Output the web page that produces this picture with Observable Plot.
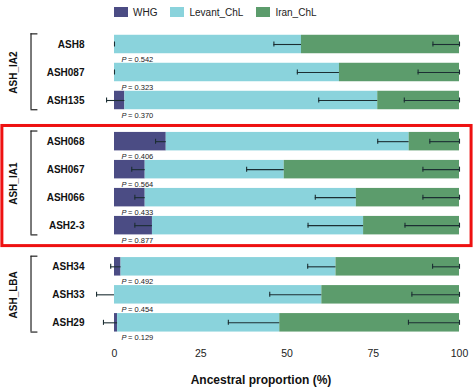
<!DOCTYPE html>
<html>
<head>
<meta charset="utf-8">
<script src="https://cdn.jsdelivr.net/npm/d3@7"></script>
<script src="https://cdn.jsdelivr.net/npm/@observablehq/plot@0.6"></script>
<style>
  body { margin: 0; background: #fff; font-family: "Liberation Sans", Arial, sans-serif; }
  #legend { display: flex; align-items: center; height: 24px; padding-left: 114px; font-size: 10px; color: #222; }
  #legend .sw { width: 14px; height: 10px; margin-right: 5px; }
  #legend .it { display: flex; align-items: center; margin-right: 13px; }
  svg { overflow: visible; }
</style>
</head>
<body>
<div id="legend"></div>
<div id="chart"></div>
<script>
// ---- data ----
const samples = ["ASH8","ASH087","ASH135","ASH068","ASH067","ASH066","ASH2-3","ASH34","ASH33","ASH29"];
const groups  = ["ASH_IA2","ASH_IA2","ASH_IA2","ASH_IA1","ASH_IA1","ASH_IA1","ASH_IA1","ASH_LBA","ASH_LBA","ASH_LBA"];
const components = ["WHG","Levant_ChL","Iran_ChL"];
const colors = ["#4b4c84","#8ad3dc","#5c9c6c"];
const whg    = [0, 0, 3.0, 15.0, 8.9, 8.9, 11.0, 1.9, 0, 0.9];
const levant = [54.2, 65.2, 73.3, 70.4, 40.3, 61.2, 61.2, 62.3, 60.1, 47.0];
const iran   = [45.8, 34.8, 23.7, 14.6, 50.8, 29.9, 27.8, 35.8, 39.9, 52.1];
const whgErr    = [0, 0, 5.3, 3.1, 3.9, 3.0, 5.1, 3.0, 5.2, 4.1];
const levantErr = [8.0, 12.2, 17.1, 9.1, 10.9, 11.9, 16.1, 8.2, 15.1, 14.9];
const iranErr   = [7.7, 12.0, 16.0, 8.6, 10.6, 10.6, 15.8, 7.8, 13.8, 14.8];
const pValues = ["0.542","0.323","0.370","0.406","0.564","0.433","0.877","0.492","0.454","0.129"];
const xTicks = [0, 25, 50, 75, 100];
const highlightGroup = "ASH_IA1";

// ---- derived tables ----
const groupOrder = [...new Set(groups)];
const rows = samples.map((s, i) => {
  const gi = groupOrder.indexOf(groups[i]);
  return {sample: s, group: groups[i], pos: i + gi * 0.47,
          w: whg[i], l: levant[i], r: iran[i], p: pValues[i],
          we: whgErr[i], le: levantErr[i], re: iranErr[i]};
});
const segs = rows.flatMap(d => [
  {pos: d.pos, comp: components[0], x1: 0, x2: d.w},
  {pos: d.pos, comp: components[1], x1: d.w, x2: d.w + d.l},
  {pos: d.pos, comp: components[2], x1: d.w + d.l, x2: d.w + d.l + d.r}
]);
const errs = rows.flatMap(d => [
  {pos: d.pos, a: d.w - d.we, b: d.w, capR: false},
  {pos: d.pos, a: d.w + d.l - d.le, b: d.w + d.l, capR: false},
  {pos: d.pos, a: d.w + d.l + d.r - d.re, b: d.w + d.l + d.r, capR: true}
]);
const groupSpans = groupOrder.map(g => {
  const rs = rows.filter(d => d.group === g);
  return {group: g, first: rs[0].pos, last: rs[rs.length - 1].pos,
          mid: (rs[0].pos + rs[rs.length - 1].pos) / 2};
});

// ---- legend ----
const leg = document.getElementById("legend");
components.forEach((c, i) => {
  const it = document.createElement("div"); it.className = "it";
  const sw = document.createElement("div"); sw.className = "sw"; sw.style.background = colors[i];
  const tx = document.createElement("span"); tx.textContent = c;
  it.append(sw, tx); leg.append(it);
});

// ---- plot ----
const maxPos = rows[rows.length - 1].pos;
const chart = Plot.plot({
  width: 474,
  height: 364,
  marginLeft: 114,
  marginRight: 15,
  marginTop: 0,
  marginBottom: 46,
  style: {fontFamily: "Liberation Sans, Arial, sans-serif", background: "white"},
  x: {domain: [0, 100], ticks: xTicks, tickSize: 0, tickPadding: 7, label: null},
  y: {domain: [0, maxPos], range: [20, 20 + maxPos * 28], axis: null},
  color: {domain: components, range: colors},
  marks: [
    Plot.rect(segs, {x1: "x1", x2: "x2", y1: d => d.pos - 0.33, y2: d => d.pos + 0.33, fill: "comp"}),
    // error bars
    Plot.ruleY(errs, {x1: "a", x2: "b", y: "pos", stroke: "#1c2e33", strokeWidth: 1.1}),
    Plot.ruleX(errs, {x: "a", y1: d => d.pos - 0.09, y2: d => d.pos + 0.09, stroke: "#1c2e33", strokeWidth: 1.1}),
    Plot.ruleX(errs.filter(d => d.capR), {x: "b", y1: d => d.pos - 0.09, y2: d => d.pos + 0.09, stroke: "#1c2e33", strokeWidth: 1.1}),
    // sample labels
    Plot.text(rows, {x: 0, y: "pos", text: "sample", textAnchor: "end", dx: -30, fontWeight: "bold", fontSize: 10, fill: "#111"}),
    // P values
    Plot.text(rows, {x: 0, y: "pos", text: () => "P", textAnchor: "start", dx: 7, dy: 15, fontStyle: "italic", fontSize: 7.5, fill: "#222"}),
    Plot.text(rows, {x: 0, y: "pos", text: d => "= " + d.p, textAnchor: "start", dx: 13.5, dy: 15, fontSize: 7.5, fill: "#222"}),
    // brackets
    Plot.ruleX(groupSpans, {x: -24.2, y1: d => d.first - 0.38, y2: d => d.last + 0.33, stroke: "#222", strokeWidth: 1.2}),
    Plot.ruleY(groupSpans, {x1: -24.2, x2: -22.2, y: d => d.first - 0.38, stroke: "#222", strokeWidth: 1.2}),
    Plot.ruleY(groupSpans, {x1: -24.2, x2: -22.2, y: d => d.last + 0.33, stroke: "#222", strokeWidth: 1.2}),
    Plot.text(groupSpans, {x: -29.1, y: "mid", text: "group", rotate: -90, fontWeight: "bold", fontSize: 10, fill: "#111"}),
    // highlight box
    Plot.rect(groupSpans.filter(d => d.group === highlightGroup), {x1: -32.5, x2: 103.5, y1: d => d.first - 0.56, y2: d => d.last + 0.73, fill: "none", stroke: "#ee1111", strokeWidth: 3}),
    // axis
    Plot.axisX({ticks: xTicks, tickSize: 0, tickPadding: 7, fontSize: 10.5, label: null, fill: "#222"}),
    Plot.text(["Ancestral proportion (%)"], {frameAnchor: "bottom", dx: -26, dy: 38, lineAnchor: "middle", fontWeight: "bold", fontSize: 12, fill: "#111"})
  ]
});
document.getElementById("chart").append(chart);
</script>
</body>
</html>
